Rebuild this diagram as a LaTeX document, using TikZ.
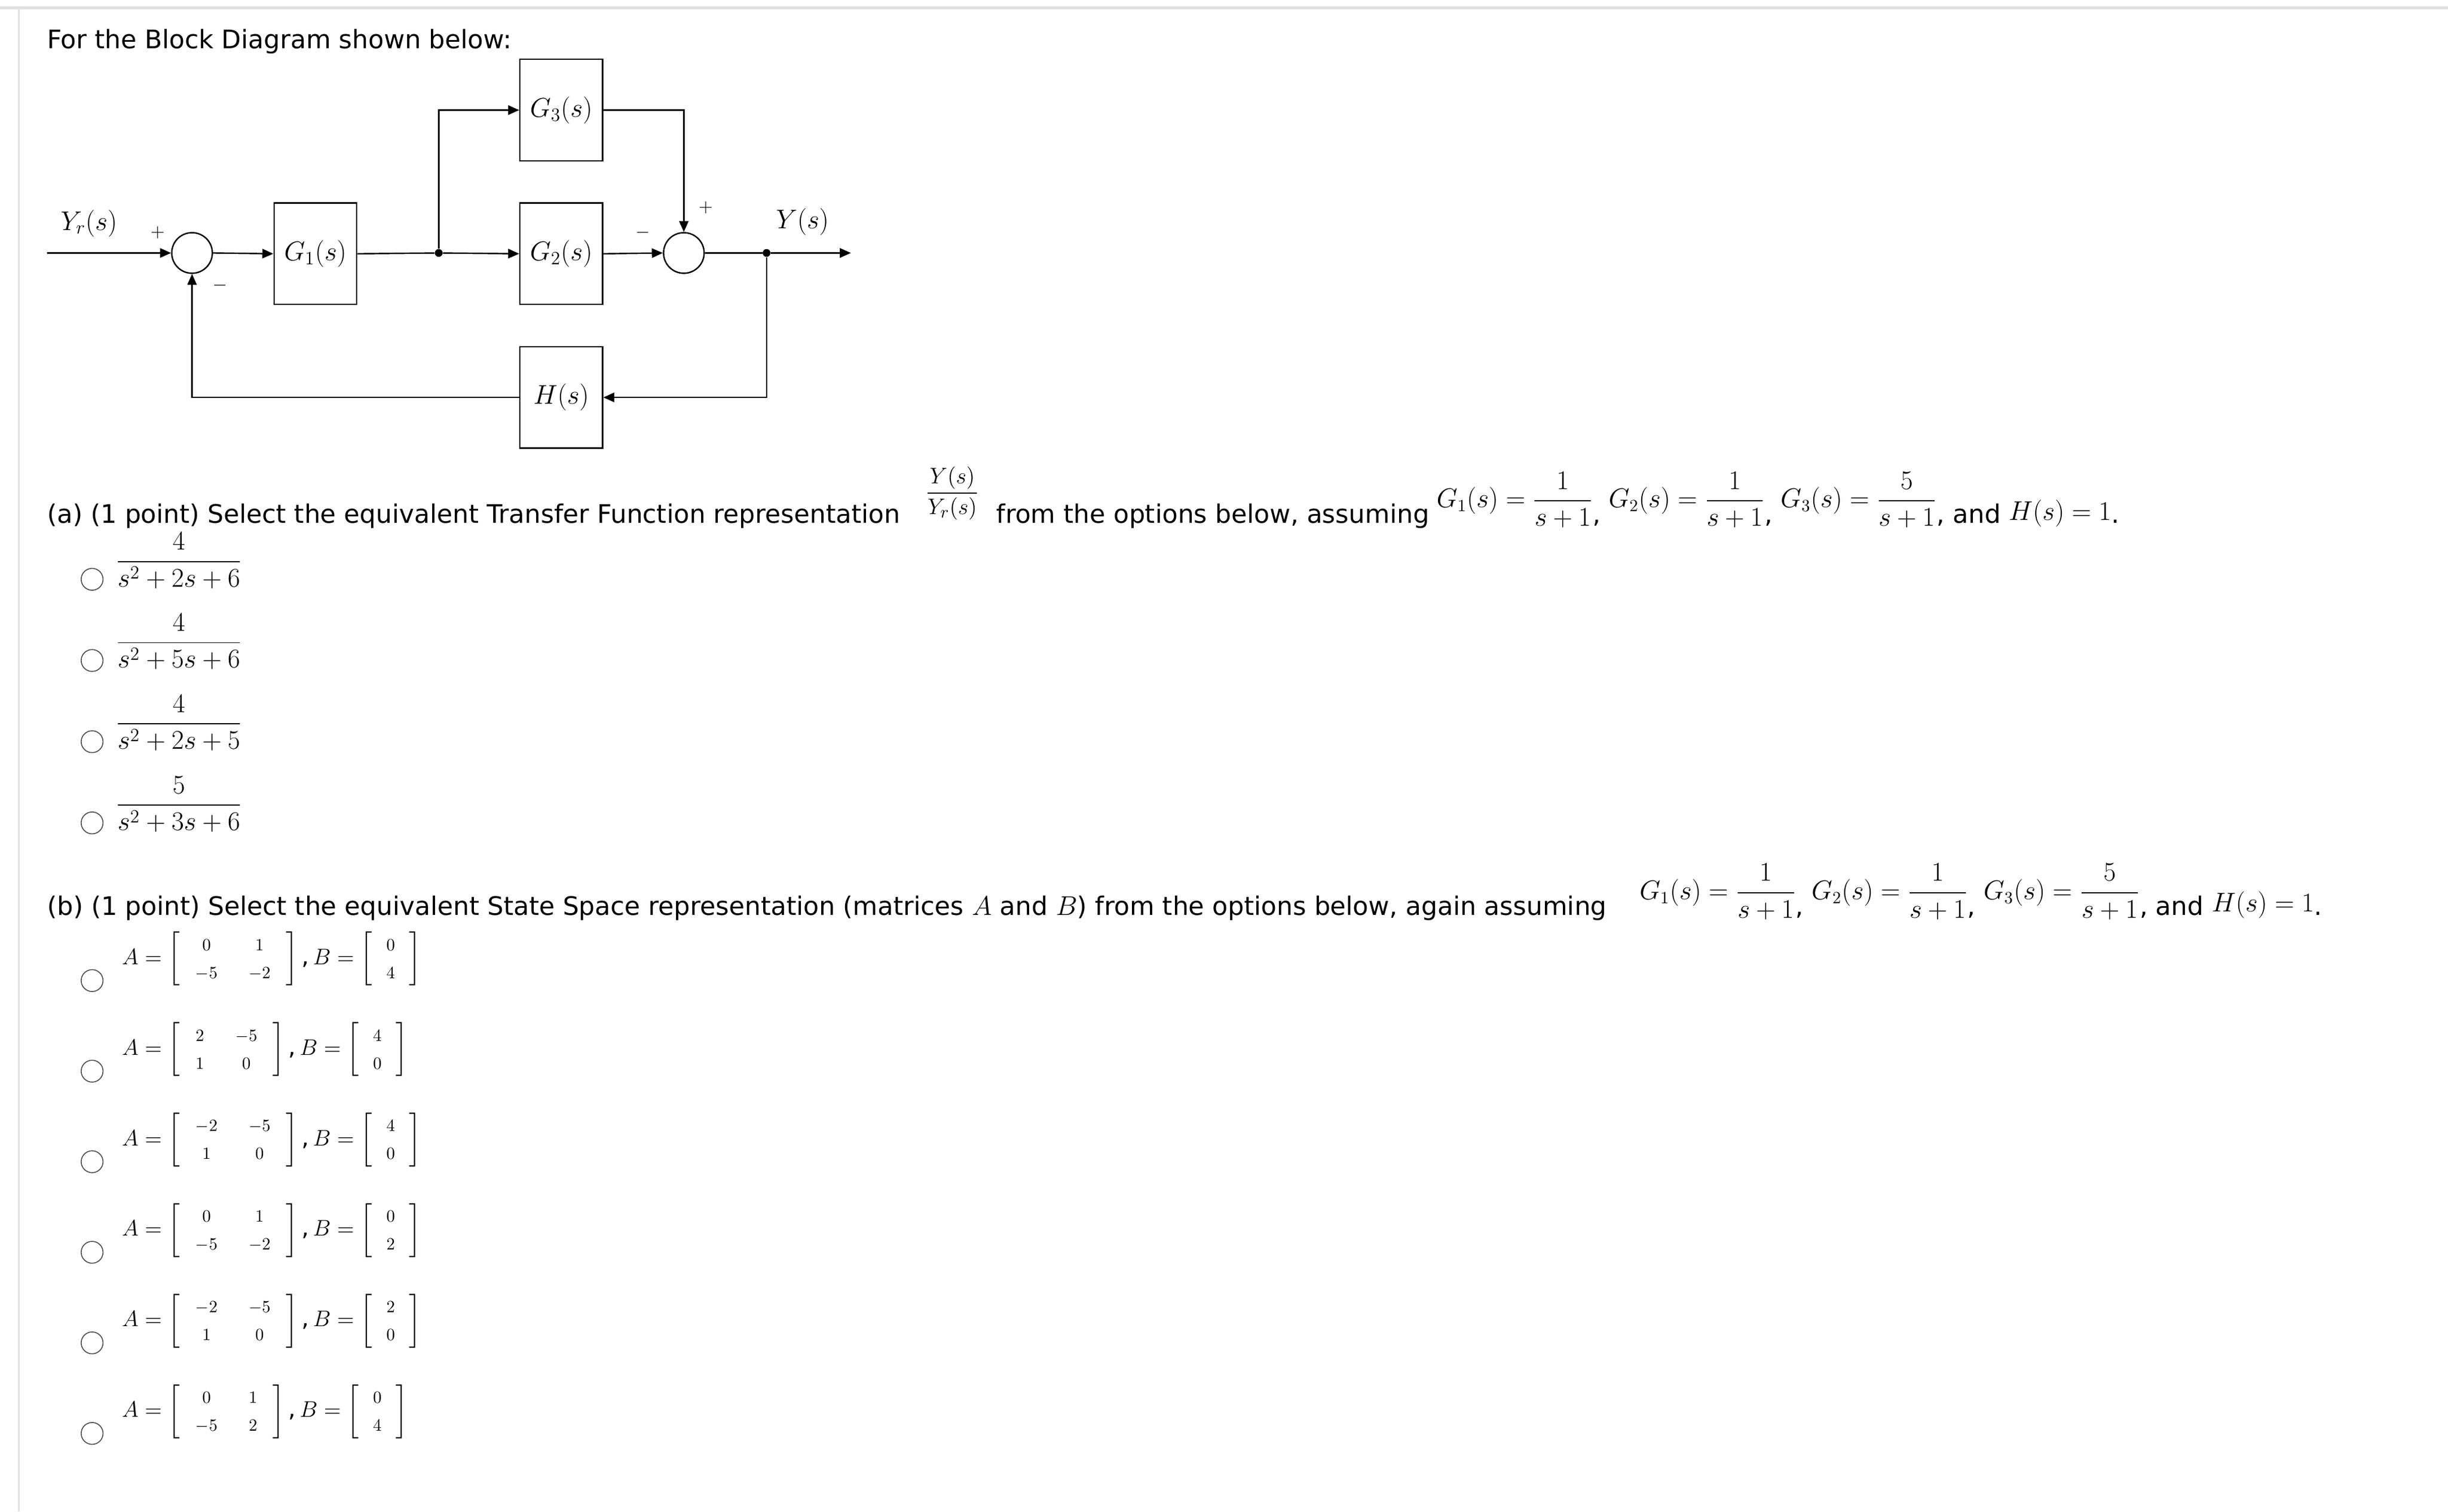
\documentclass[tikz,border=0pt]{standalone}
\usepackage{fontspec}
\setmainfont{DejaVu Sans}
\usepackage{amsmath}
\usepackage{array}
\usetikzlibrary{arrows.meta}
\newcommand{\rfr}[1]{\raisebox{10pt}{$\displaystyle #1$}}
\begin{document}
\begin{tikzpicture}[x=1pt,y=-1pt,
  blk/.style={draw,line width=0.9pt,minimum width=53pt,minimum height=65pt,inner sep=0pt,font=\fontsize{17}{19}\selectfont\rmfamily},
  sumc/.style={draw,line width=0.9pt,circle,minimum size=26pt,inner sep=0pt},
  ln/.style={line width=0.9pt},
  ar/.style={line width=0.9pt,-{Triangle[length=7pt,width=6pt]}},
  dotn/.style={circle,fill,inner sep=0pt,minimum size=5pt},
  txt/.style={anchor=base west,inner sep=0pt,font=\fontsize{16.3}{19}\selectfont},
  mth/.style={anchor=west,inner sep=0pt,font=\fontsize{17.5}{20}\selectfont},
  radio/.style={draw,circle,line width=0.6pt,minimum size=14pt,inner sep=0pt,draw=black!70}]
\useasboundingbox (0,0) rectangle (1568,968);
\fill[white] (0,0) rectangle (1568,968);
\draw[black!12,line width=2pt] (0,5) -- (1568,5);
\draw[black!12,line width=1pt] (12,5) -- (12,968);
\node[txt] (title) at (30,31) {For the Block Diagram shown below:};
% block diagram
\node[blk] (g3) at (359.5,70.5) {$G_3(s)$};
\node[blk] (g2) at (359.5,162.5) {$G_2(s)$};
\node[blk] (g1) at (202,162.5) {$G_1(s)$};
\node[blk] (h) at (359.5,254.5) {$H(s)$};
\node[sumc] (s1) at (123,162) {};
\node[sumc] (s2) at (438,162) {};
\coordinate (in) at (30,162);
\node[dotn] (b1) at (281,162) {};
\node[dotn] (b2) at (491,162) {};
\coordinate (out) at (545,162);
\draw[ar] (in) -- (s1.west);
\draw[ar] (s1.east) -- (g1.west);
\draw[ln] (g1.east) -- (b1);
\draw[ar] (b1) -- (g2.west);
\draw[ar] (b1) |- (g3.west);
\draw[ar] (g3.east) -| (s2.north);
\draw[ar] (g2.east) -- (s2.west);
\draw[ln] (s2.east) -- (b2);
\draw[ar] (b2) -- (out);
\draw[ar] (b2) |- (h.east);
\draw[ar] (h.west) -| (s1.south);
\node[font=\fontsize{17}{19}\selectfont] (lyr) at (57,143) {$Y_r(s)$};
\node[font=\fontsize{17}{19}\selectfont] (ly) at (514,142) {$Y(s)$};
\node[font=\fontsize{12}{13}\selectfont] (p1) at (101,149) {$+$};
\node[font=\fontsize{12}{13}\selectfont] (m1) at (141,183) {$-$};
\node[font=\fontsize{12}{13}\selectfont] (m2) at (412,149) {$-$};
\node[font=\fontsize{12}{13}\selectfont] (p2) at (452,133) {$+$};
% part (a)
\node[txt] (qa) at (30,335) {(a) (1 point) Select the equivalent Transfer Function representation};
\node[anchor=center,inner sep=0pt,font=\fontsize{15}{17}\selectfont] (fa) at (610,316) {$\dfrac{Y(s)}{Y_r(s)}$};
\node[txt] (qa2) at (638,335) {from the options below, assuming};
\node[txt] (ga) at (920,335) {\fontsize{16}{18}\selectfont\rfr{G_1(s)=\frac{1}{s+1}}, \rfr{G_2(s)=\frac{1}{s+1}}, \rfr{G_3(s)=\frac{5}{s+1}}\fontsize{16.3}{19}\selectfont, and \raisebox{2pt}{\fontsize{16}{18}\selectfont$H(s)=1$}.};
\foreach \y/\n/\d [count=\i] in {371/4/s^2+2s+6,423/4/s^2+5s+6,475/4/s^2+2s+5,527/5/s^2+3s+6}{
  \node[radio] (ra\i) at (59,\y) {};
  \node[mth] (oa\i) at (74,\y-12) {$\dfrac{\n}{\d}$};
}
% part (b)
\node[txt] (qb) at (30,586) {(b) (1 point) Select the equivalent State Space representation (matrices $A$ and $B$) from the options below, again assuming};
\node[txt] (gb) at (1050,586) {\fontsize{16}{18}\selectfont\rfr{G_1(s)=\frac{1}{s+1}}, \rfr{G_2(s)=\frac{1}{s+1}}, \rfr{G_3(s)=\frac{5}{s+1}}\fontsize{16.3}{19}\selectfont, and \raisebox{2pt}{\fontsize{16}{18}\selectfont$H(s)=1$}.};
\foreach \y/\a/\b [count=\i] in {
 628/{0 & 1\\ -5 & -2}/{0\\4},
 686/{2 & -5\\ 1 & 0}/{4\\0},
 744/{-2 & -5\\ 1 & 0}/{4\\0},
 802/{0 & 1\\ -5 & -2}/{0\\2},
 860/{-2 & -5\\ 1 & 0}/{2\\0},
 918/{0 & 1\\ -5 & 2}/{0\\4}}{
  \node[radio] (rb\i) at (59,\y) {};
  \node[mth,font=\fontsize{15}{17}\selectfont] (ob\i) at (78,\y-14) {$A=\left[\setlength{\arraycolsep}{10pt}\renewcommand{\arraystretch}{1.05}\begin{array}{>{\scriptstyle}c>{\scriptstyle}c}\a\end{array}\right]\text{,}\,B=\left[\setlength{\arraycolsep}{9pt}\renewcommand{\arraystretch}{1.05}\begin{array}{>{\scriptstyle}c}\b\end{array}\right]$};
}
\end{tikzpicture}
\end{document}
